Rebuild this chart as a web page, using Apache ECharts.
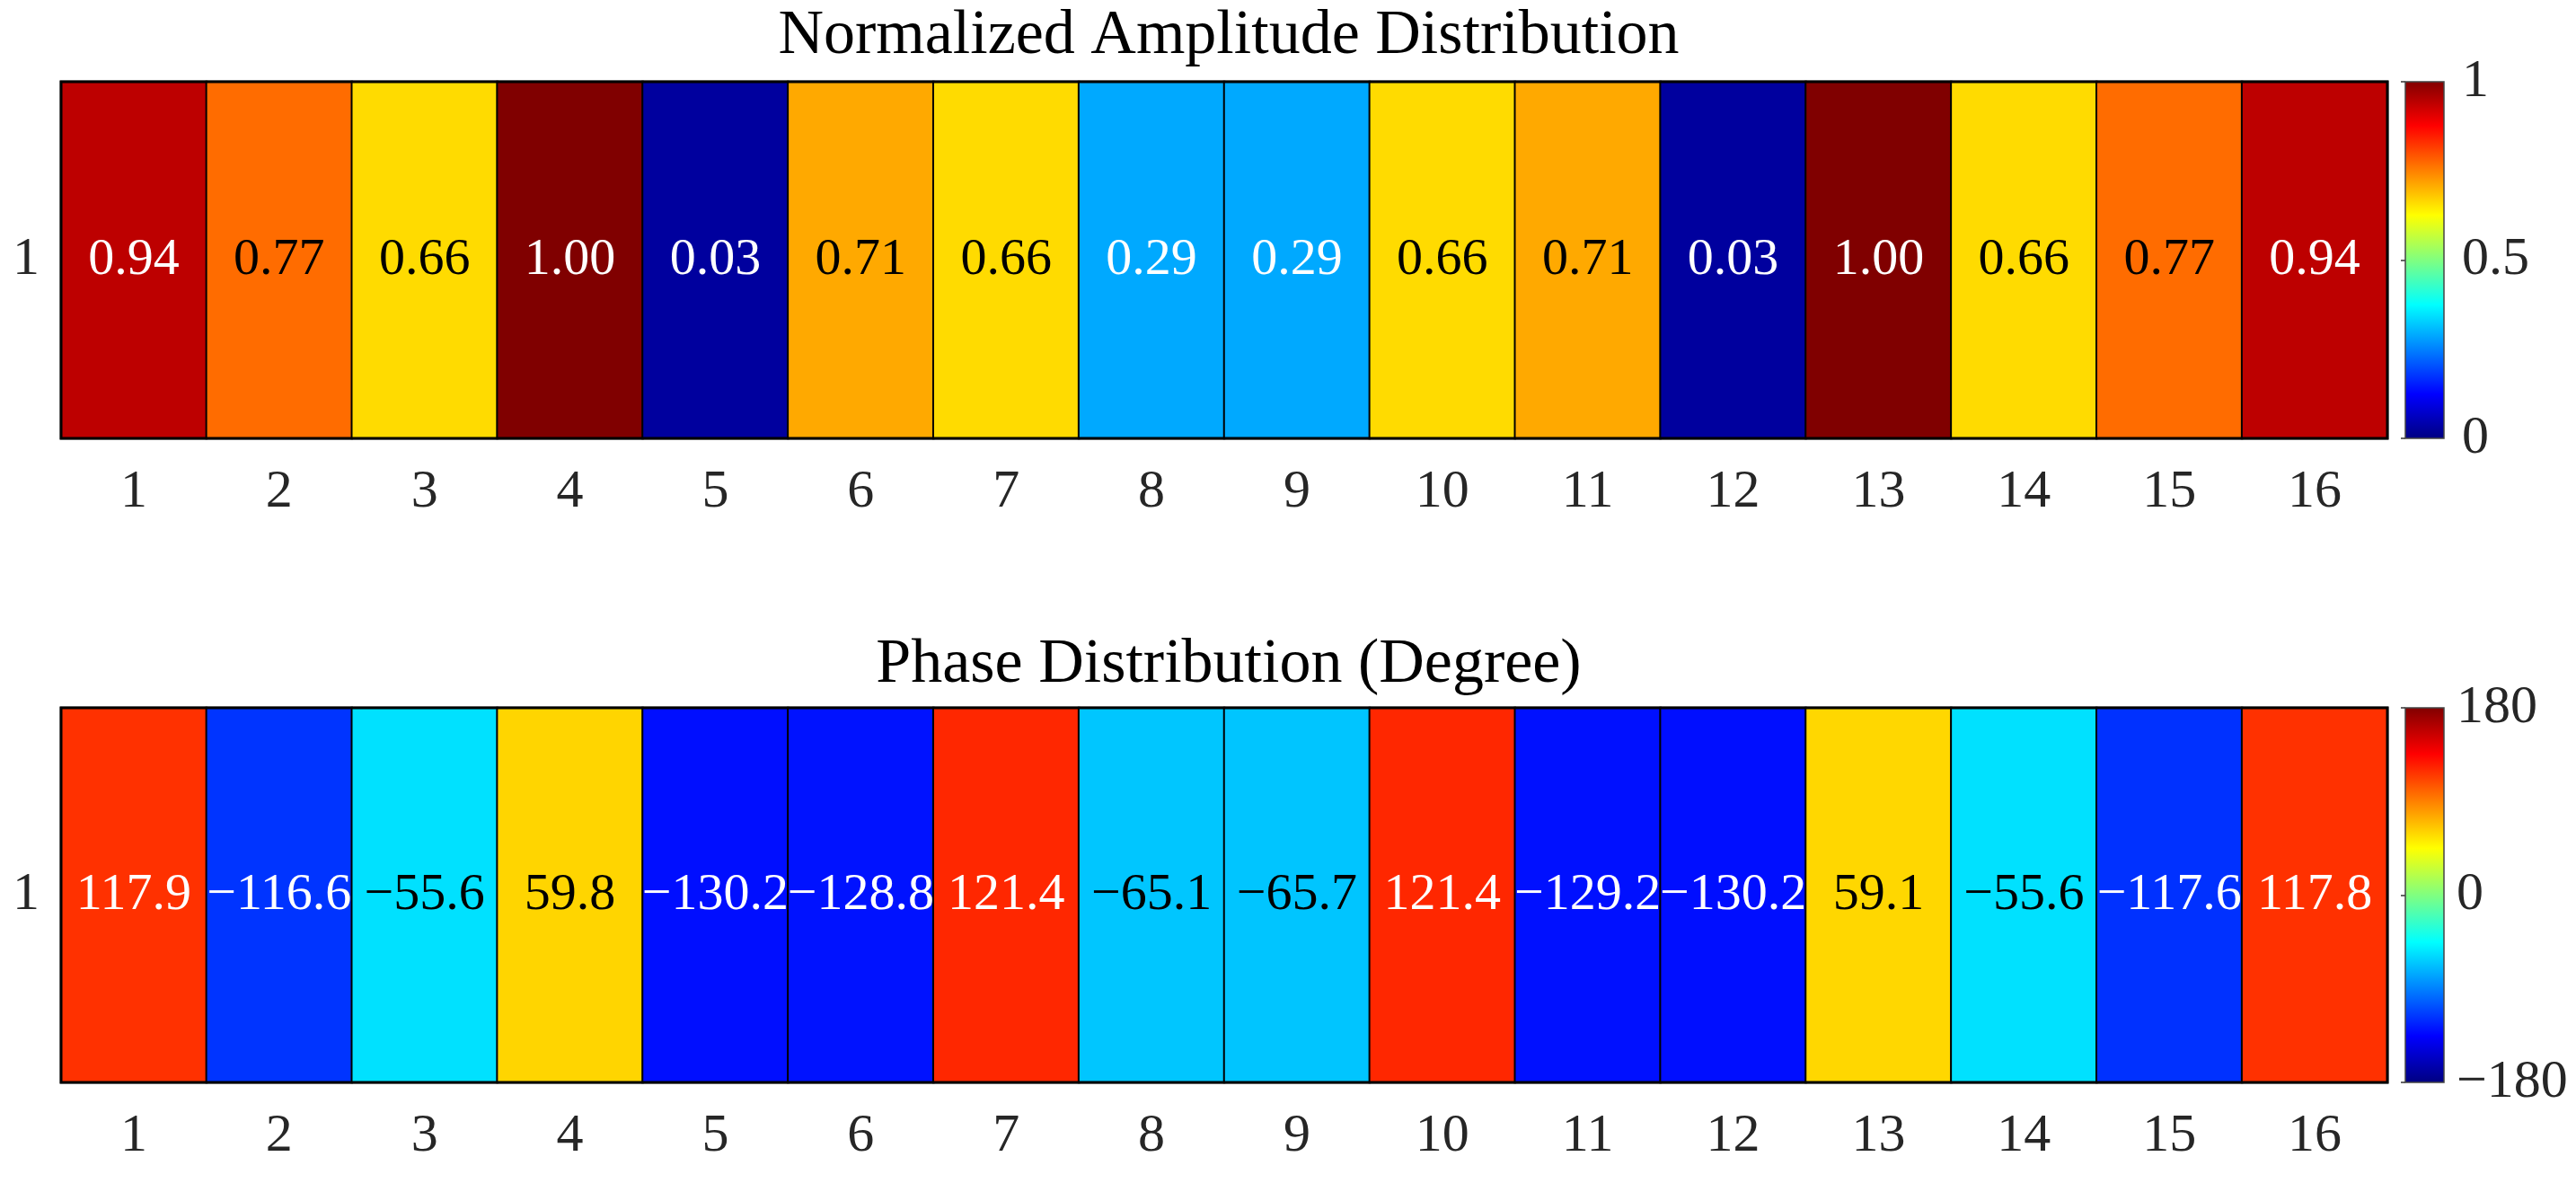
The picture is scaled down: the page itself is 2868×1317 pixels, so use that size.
<!DOCTYPE html>
<html>
<head>
<meta charset="utf-8">
<script src="https://cdn.jsdelivr.net/npm/echarts@6/dist/echarts.min.js"></script>
<style>
html,body{margin:0;padding:0;background:#fff;}
#chart{width:2868px;height:1317px;}
</style>
</head>
<body>
<div id="chart"></div>
<script>
// ---- data ----
const elements = ['1','2','3','4','5','6','7','8','9','10','11','12','13','14','15','16'];
const rowLabels = ['1'];
const amplitude = [0.94, 0.77, 0.66, 1.00, 0.03, 0.71, 0.66, 0.29, 0.29, 0.66, 0.71, 0.03, 1.00, 0.66, 0.77, 0.94];
const phase = [117.9, -116.6, -55.6, 59.8, -130.2, -128.8, 121.4, -65.1, -65.7, 121.4, -129.2, -130.2, 59.1, -55.6, -117.6, 117.8];
const ampRange = [0, 1];
const phaseRange = [-180, 180];
const ampTicks = [0, 0.5, 1];
const phaseTicks = [-180, 0, 180];
const titles = ['Normalized Amplitude Distribution', 'Phase Distribution (Degree)'];

// ---- style ----
const FONT = '"Liberation Serif","Times New Roman",serif';
const FS_TICK = 60;
const FS_CELL = 58;
const FS_TITLE = 70;
const jetStops = ['#000080','#0000FF','#0080FF','#00FFFF','#80FF80','#FFFF00','#FF8000','#FF0000','#800000'];

function jet(t){
  t = Math.max(0, Math.min(1, t));
  const c = v => Math.max(0, Math.min(1, v));
  const r = c(Math.min(4*t - 1.5, -4*t + 4.5));
  const g = c(Math.min(4*t - 0.5, -4*t + 3.5));
  const b = c(Math.min(4*t + 0.5, -4*t + 2.5));
  return [r, g, b];
}
function textColorFor(v, range){
  const [r,g,b] = jet((v - range[0]) / (range[1] - range[0]));
  const L = 0.299*r + 0.587*g + 0.114*b;
  return L < 0.52 ? '#ffffff' : '#000000';
}
const minus = s => s.replace('-', '\u2212');

function cells(vals, range){
  return vals.map((v, i) => ({ value: [i, 0, v], label: { color: textColorFor(v, range) } }));
}
function jetGradient(){
  // vertical: bottom = min, top = max
  return new echarts.graphic.LinearGradient(0, 1, 0, 0,
    jetStops.map((c, i) => ({ offset: i / (jetStops.length - 1), color: c })));
}

const grids = [
  { left: 68, right: 210, top: 91, height: 397 },
  { left: 68, right: 210, top: 788, height: 417 }
];
const cbars = [
  { left: 2678, width: 43, top: 91, height: 397 },
  { left: 2678, width: 43, top: 788, height: 417 }
];

const option = {
  backgroundColor: '#ffffff',
  animation: false,
  title: [
    { text: titles[0], left: 1363, top: 1, textAlign: 'center',
      textStyle: { fontFamily: FONT, fontSize: FS_TITLE, fontWeight: 'normal', color: '#000' } },
    { text: titles[1], left: 1363, top: 701, textAlign: 'center',
      textStyle: { fontFamily: FONT, fontSize: FS_TITLE, fontWeight: 'normal', color: '#000' } }
  ],
  grid: [
    Object.assign({ show: true, borderColor: '#000', borderWidth: 3, backgroundColor: 'transparent', z: 5 }, grids[0]),
    Object.assign({ show: true, borderColor: '#000', borderWidth: 3, backgroundColor: 'transparent', z: 5 }, grids[1]),
    Object.assign({ show: true, borderColor: '#444', borderWidth: 1.5, backgroundColor: jetGradient(), z: 10 }, cbars[0]),
    Object.assign({ show: true, borderColor: '#444', borderWidth: 1.5, backgroundColor: jetGradient(), z: 10 }, cbars[1])
  ],
  xAxis: [0,1].map(i => ({
    type: 'category', gridIndex: i, data: elements,
    axisLine: { show: false }, axisTick: { show: false }, splitArea: { show: false },
    axisLabel: { fontFamily: FONT, fontSize: FS_TICK, color: '#262626', margin: 30 }
  })).concat([2,3].map(i => ({
    type: 'value', gridIndex: i, min: 0, max: 1, show: false
  }))),
  yAxis: [0,1].map(i => ({
    type: 'category', gridIndex: i, data: rowLabels,
    axisLine: { show: false }, axisTick: { show: false }, splitArea: { show: false },
    axisLabel: { fontFamily: FONT, fontSize: FS_TICK, color: '#262626', margin: 24 }
  })).concat([
    { type: 'value', gridIndex: 2, position: 'right', min: ampRange[0], max: ampRange[1], interval: 0.5,
      axisLine: { show: false }, splitLine: { show: false },
      axisTick: { show: true, inside: true, length: 5, lineStyle: { color: '#333', width: 1.5 } },
      axisLabel: { fontFamily: FONT, fontSize: FS_TICK, color: '#262626', margin: 20,
        formatter: v => ampTicks.includes(v) ? String(v) : '' } },
    { type: 'value', gridIndex: 3, position: 'right', min: phaseRange[0], max: phaseRange[1], interval: 180,
      axisLine: { show: false }, splitLine: { show: false },
      axisTick: { show: true, inside: true, length: 5, lineStyle: { color: '#333', width: 1.5 } },
      axisLabel: { fontFamily: FONT, fontSize: FS_TICK, color: '#262626', margin: 14,
        formatter: v => phaseTicks.includes(v) ? minus(String(v)) : '' } }
  ]),
  visualMap: [
    { type: 'continuous', show: false, seriesIndex: 0, min: ampRange[0], max: ampRange[1],
      inRange: { color: jetStops } },
    { type: 'continuous', show: false, seriesIndex: 1, min: phaseRange[0], max: phaseRange[1],
      inRange: { color: jetStops } }
  ],
  series: [
    { type: 'heatmap', xAxisIndex: 0, yAxisIndex: 0, data: cells(amplitude, ampRange),
      itemStyle: { borderColor: '#000', borderWidth: 2 },
      label: { show: true, fontFamily: FONT, fontSize: FS_CELL, formatter: p => p.value[2].toFixed(2) } },
    { type: 'heatmap', xAxisIndex: 1, yAxisIndex: 1, data: cells(phase, phaseRange),
      itemStyle: { borderColor: '#000', borderWidth: 2 },
      label: { show: true, fontFamily: FONT, fontSize: FS_CELL, formatter: p => minus(p.value[2].toFixed(1)) } }
  ]
};

const chart = echarts.init(document.getElementById('chart'), null, { renderer: 'canvas' });
chart.setOption(option);
</script>
</body>
</html>
